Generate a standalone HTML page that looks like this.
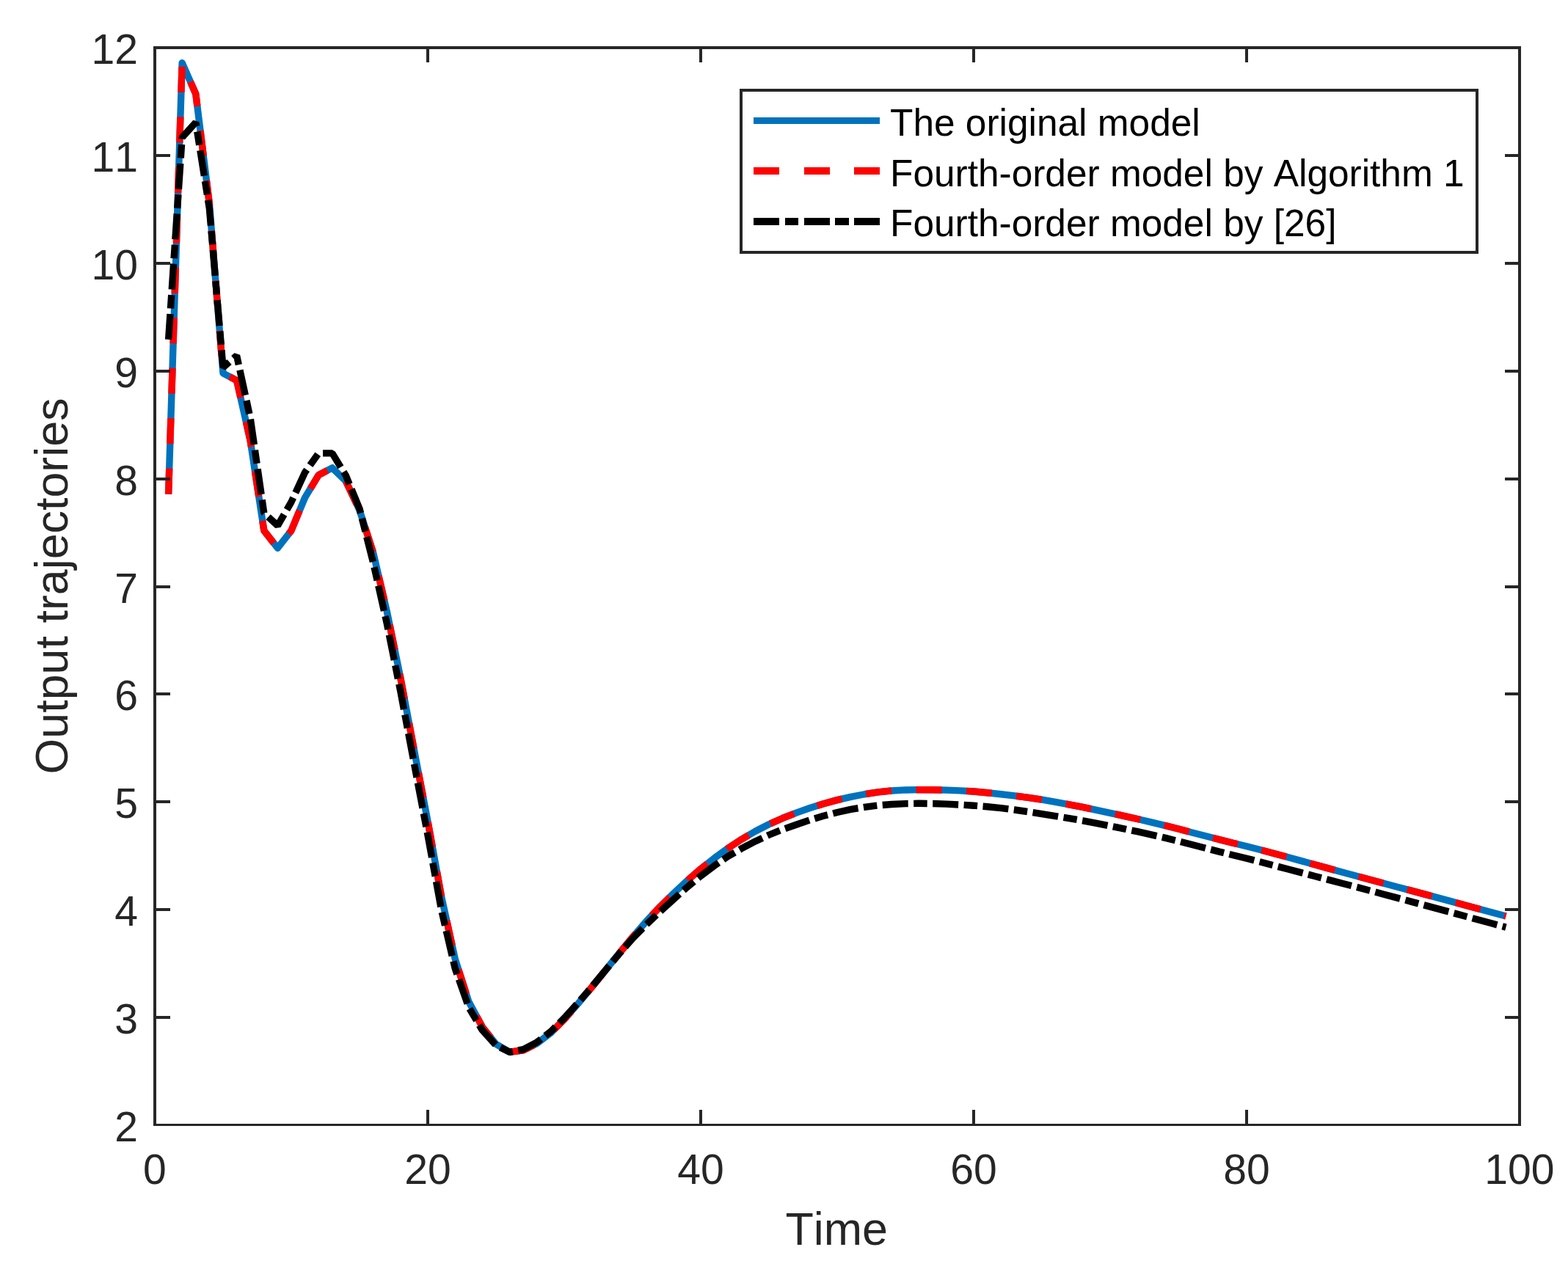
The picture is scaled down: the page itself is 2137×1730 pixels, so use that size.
<!DOCTYPE html>
<html lang="en"><head><meta charset="utf-8"><title>Output trajectories</title>
<style>html,body{margin:0;padding:0;background:#fff;}body{width:2137px;height:1730px;overflow:hidden;}svg{display:block;}text{font-family:"Liberation Sans",sans-serif;font-kerning:none;}.tk{font-size:57.1px;fill:#262626;}.lb{font-size:62.8px;fill:#262626;}.lg{font-size:51.4px;fill:#000;}.c{fill:none;stroke-linejoin:round;stroke-linecap:butt;stroke-width:9.4;}.d{stroke-linejoin:bevel;}</style></head><body>
<svg xmlns="http://www.w3.org/2000/svg" width="2137" height="1730" viewBox="0 0 2137 1730">
<rect x="0" y="0" width="2137" height="1730" fill="#fff"/>
<g id="curves">
<polyline class="c" stroke="#0072BD" points="229.6,673.65 248.2,85.7 266.8,127.99 285.4,277.92 304,508.9 322.6,518.59 341.2,600.97 359.8,723.28 378.4,747.22 397,723.28 415.6,678.35 434.2,647.66 452.8,637.82 471.4,655.88 490,695.53 508.6,753.24 527.2,832.97 545.8,924.01 564.4,1022.4 583,1119.59 601.6,1222.24 620.2,1307.09 638.8,1365.47 657.4,1400.07 676,1423.39 694.6,1434.27 713.2,1431.72 731.8,1422.56 750.4,1408.32 769,1389.6 787.6,1368.5 806.2,1346.2 824.8,1323.3 843.4,1300.31 862,1277.78 880.6,1256.31 899.2,1236.49 917.8,1218.09 936.4,1200.73 955,1184.62 973.6,1169.89 992.2,1156.43 1010.8,1144.19 1029.4,1133.27 1048,1123.74 1066.6,1115.43 1085.2,1108.09 1103.8,1101.52 1122.4,1095.72 1141,1090.66 1159.6,1086.35 1178.2,1082.76 1196.8,1079.92 1215.4,1077.94 1234,1076.93 1252.6,1076.67 1271.2,1076.79 1289.8,1077.13 1308.4,1077.83 1327,1079.04 1345.6,1080.71 1364.2,1082.71 1382.8,1084.95 1401.4,1087.42 1420,1090.19 1438.6,1093.31 1457.2,1096.77 1475.8,1100.47 1494.4,1104.33 1513,1108.28 1531.6,1112.34 1550.2,1116.5 1568.8,1120.81 1587.4,1125.32 1606,1130.06 1624.6,1134.94 1643.2,1139.82 1661.8,1144.57 1680.4,1149.2 1699,1153.81 1717.6,1158.52 1736.2,1163.44 1754.8,1168.51 1773.4,1173.65 1792,1178.78 1810.6,1183.87 1829.2,1188.93 1847.8,1193.95 1866.4,1198.95 1885,1203.94 1903.6,1208.92 1922.2,1213.9 1940.8,1218.9 1959.4,1223.9 1978,1228.91 1996.6,1233.93 2015.2,1238.94 2033.8,1243.96 2052.4,1248.97"/>
<polyline class="c d" stroke="#FF0000" stroke-dasharray="35 33.5" points="229.6,673.65 248.2,85.7 266.8,127.99 285.4,277.92 304,508.9 322.6,518.59 341.2,600.97 359.8,723.28 378.4,747.22 397,723.28 415.6,678.35 434.2,647.66 452.8,637.82 471.4,655.88 490,695.53 508.6,753.24 527.2,832.97 545.8,924.01 564.4,1022.4 583,1119.59 601.6,1222.24 620.2,1307.09 638.8,1365.47 657.4,1400.07 676,1423.39 694.6,1434.27 713.2,1431.72 731.8,1422.56 750.4,1408.32 769,1389.6 787.6,1368.5 806.2,1346.2 824.8,1323.3 843.4,1300.31 862,1277.78 880.6,1256.31 899.2,1236.49 917.8,1218.09 936.4,1200.73 955,1184.62 973.6,1169.89 992.2,1156.43 1010.8,1144.19 1029.4,1133.27 1048,1123.74 1066.6,1115.43 1085.2,1108.09 1103.8,1101.52 1122.4,1095.72 1141,1090.66 1159.6,1086.35 1178.2,1082.76 1196.8,1079.92 1215.4,1077.94 1234,1076.93 1252.6,1076.67 1271.2,1076.79 1289.8,1077.13 1308.4,1077.83 1327,1079.04 1345.6,1080.71 1364.2,1082.71 1382.8,1084.95 1401.4,1087.42 1420,1090.19 1438.6,1093.31 1457.2,1096.77 1475.8,1100.47 1494.4,1104.33 1513,1108.28 1531.6,1112.34 1550.2,1116.5 1568.8,1120.81 1587.4,1125.32 1606,1130.06 1624.6,1134.94 1643.2,1139.82 1661.8,1144.57 1680.4,1149.2 1699,1153.81 1717.6,1158.52 1736.2,1163.44 1754.8,1168.51 1773.4,1173.65 1792,1178.78 1810.6,1183.87 1829.2,1188.93 1847.8,1193.95 1866.4,1198.95 1885,1203.94 1903.6,1208.92 1922.2,1213.9 1940.8,1218.9 1959.4,1223.9 1978,1228.91 1996.6,1233.93 2015.2,1238.94 2033.8,1243.96 2052.4,1248.97"/>
<polyline class="c d" stroke="#000000" stroke-dasharray="35 7.5 18.5 7.5" points="229.6,462.94 248.2,187.46 266.8,166.91 285.4,284.53 304,500.97 322.6,484.82 341.2,570.28 359.8,699.35 378.4,716.53 397,684.37 415.6,643.99 434.2,617.85 452.8,617.85 471.4,648.4 490,693.48 508.6,766.89 527.2,849.6 545.8,942.41 564.4,1040.89 583,1138.63 601.6,1240.66 620.2,1320.26 638.8,1373.28 657.4,1404.47 676,1425.15 694.6,1434.27 713.2,1430.55 731.8,1420.8 750.4,1406.56 769,1387.83 787.6,1367.32 806.2,1345.61 824.8,1323.3 843.4,1300.9 862,1279.54 880.6,1260.72 899.2,1243.1 917.8,1226.17 936.4,1209.54 955,1194.16 973.6,1180.16 992.2,1167.44 1010.8,1156.68 1029.4,1146.92 1048,1138.25 1066.6,1130.77 1085.2,1124.24 1103.8,1117.9 1122.4,1112.31 1141,1107.48 1159.6,1103.39 1178.2,1100.3 1196.8,1097.96 1215.4,1096.49 1234,1095.58 1252.6,1095.32 1271.2,1095.56 1289.8,1096.13 1308.4,1097.07 1327,1098.19 1345.6,1099.76 1364.2,1101.68 1382.8,1104.02 1401.4,1106.68 1420,1109.63 1438.6,1112.61 1457.2,1115.61 1475.8,1118.85 1494.4,1122.31 1513,1125.99 1531.6,1129.78 1550.2,1133.68 1568.8,1137.82 1587.4,1142.16 1606,1146.74 1624.6,1151.52 1643.2,1156.38 1661.8,1161.11 1680.4,1165.71 1699,1170.3 1717.6,1174.99 1736.2,1179.88 1754.8,1184.73 1773.4,1189.64 1792,1194.55 1810.6,1199.41 1829.2,1204.24 1847.8,1209.04 1866.4,1213.93 1885,1218.92 1903.6,1223.9 1922.2,1228.88 1940.8,1233.88 1959.4,1238.88 1978,1243.89 1996.6,1248.94 2015.2,1254 2033.8,1259.05 2052.4,1264.1"/>
</g>
<g id="axes" shape-rendering="crispEdges">
<rect x="209" y="63" width="1864" height="4" fill="#262626"/>
<rect x="209" y="1532" width="1864" height="3" fill="#262626"/>
<rect x="209" y="63" width="4" height="1472" fill="#262626"/>
<rect x="2069" y="63" width="4" height="1472" fill="#262626"/>
<rect x="581" y="1513" width="4" height="19" fill="#262626"/>
<rect x="581" y="67" width="4" height="18" fill="#262626"/>
<rect x="953" y="1513" width="4" height="19" fill="#262626"/>
<rect x="953" y="67" width="4" height="18" fill="#262626"/>
<rect x="1325" y="1513" width="4" height="19" fill="#262626"/>
<rect x="1325" y="67" width="4" height="18" fill="#262626"/>
<rect x="1697" y="1513" width="4" height="19" fill="#262626"/>
<rect x="1697" y="67" width="4" height="18" fill="#262626"/>
<rect x="213" y="1385" width="19" height="4" fill="#262626"/>
<rect x="2051" y="1385" width="18" height="4" fill="#262626"/>
<rect x="213" y="1238" width="19" height="4" fill="#262626"/>
<rect x="2051" y="1238" width="18" height="4" fill="#262626"/>
<rect x="213" y="1091" width="19" height="4" fill="#262626"/>
<rect x="2051" y="1091" width="18" height="4" fill="#262626"/>
<rect x="213" y="944" width="19" height="4" fill="#262626"/>
<rect x="2051" y="944" width="18" height="4" fill="#262626"/>
<rect x="213" y="798" width="19" height="4" fill="#262626"/>
<rect x="2051" y="798" width="18" height="4" fill="#262626"/>
<rect x="213" y="651" width="19" height="4" fill="#262626"/>
<rect x="2051" y="651" width="18" height="4" fill="#262626"/>
<rect x="213" y="504" width="19" height="4" fill="#262626"/>
<rect x="2051" y="504" width="18" height="4" fill="#262626"/>
<rect x="213" y="357" width="19" height="4" fill="#262626"/>
<rect x="2051" y="357" width="18" height="4" fill="#262626"/>
<rect x="213" y="210" width="19" height="4" fill="#262626"/>
<rect x="2051" y="210" width="18" height="4" fill="#262626"/>
</g>
<g id="xticks" class="tk" text-anchor="middle">
<text x="211" y="1613.9">0</text>
<text x="583" y="1613.9">20</text>
<text x="955" y="1613.9">40</text>
<text x="1327" y="1613.9">60</text>
<text x="1699" y="1613.9">80</text>
<text x="2071" y="1613.9">100</text>
</g>
<g id="yticks" class="tk" text-anchor="end">
<text x="188" y="1555.8">2</text>
<text x="188" y="1408.96">3</text>
<text x="188" y="1262.12">4</text>
<text x="188" y="1115.28">5</text>
<text x="188" y="968.44">6</text>
<text x="188" y="821.6">7</text>
<text x="188" y="674.76">8</text>
<text x="188" y="527.92">9</text>
<text x="188" y="381.08">10</text>
<text x="188" y="234.24">11</text>
<text x="188" y="87.4">12</text>
</g>
<text class="lb" text-anchor="middle" x="1140.2" y="1697">Time</text>
<text class="lb" text-anchor="middle" transform="translate(91.5 799) rotate(-90)">Output trajectories</text>
<g id="legend">
<g shape-rendering="crispEdges">
<rect x="1008" y="121" width="1007" height="225" fill="#262626"/>
<rect x="1012" y="125" width="999" height="217" fill="#fff"/>
<rect x="1027" y="160" width="172" height="9" fill="#0072BD"/>
<rect x="1027" y="228" width="35" height="10" fill="#FF0000"/>
<rect x="1096" y="228" width="35" height="10" fill="#FF0000"/>
<rect x="1164" y="228" width="35" height="10" fill="#FF0000"/>
<rect x="1027" y="297" width="35" height="10" fill="#000"/>
<rect x="1070" y="297" width="18" height="10" fill="#000"/>
<rect x="1096" y="297" width="35" height="10" fill="#000"/>
<rect x="1138" y="297" width="19" height="10" fill="#000"/>
<rect x="1164" y="297" width="35" height="10" fill="#000"/>
</g>
<text class="lg" x="1213" y="184.5">The original model</text>
<text class="lg" x="1213" y="253.5">Fourth-order model by Algorithm 1</text>
<text class="lg" x="1213" y="321.7">Fourth-order model by [26]</text>
</g>
</svg></body></html>
